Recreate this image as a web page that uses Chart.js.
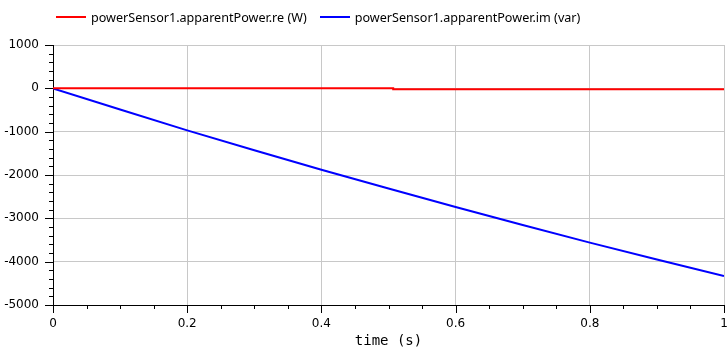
<!DOCTYPE html>
<html>
<head>
<meta charset="utf-8">
<script src="https://cdn.jsdelivr.net/npm/chart.js@4"></script>
<style>
  body { margin: 0; background: #fff; }
  #wrap { position: relative; width: 727px; height: 350px; }
  #legend { position: absolute; left: 56px; top: 8px; display: flex; font: 12.6px "Noto Sans", sans-serif; color: #000; }
  .item { display: flex; align-items: center; margin-right: 13px; height: 18px; }
  .swatch { width: 30px; height: 2px; margin-right: 5px; }
</style>
</head>
<body>
<div id="wrap">
  <canvas id="chart" width="727" height="350"></canvas>
  <div id="legend"></div>
</div>
<script>
const seriesNames = ["powerSensor1.apparentPower.re (W)", "powerSensor1.apparentPower.im (var)"];
const seriesColors = ["#ff0000", "#0000ff"];

const timeRe = [0, 0.507, 0.507, 1];
const powerRe = [0, 0, -20, -20];

const timeIm = [0, 0.1, 0.2, 0.3, 0.4, 0.5, 0.6, 0.7, 0.8, 0.9, 1.0];
const powerIm = [0, -488, -970, -1430, -1877, -2310, -2740, -3155, -3560, -3950, -4330];

const xMajor = 0.2, xMinor = 0.05;
const yMajor = 1000, yMinor = 200;

const isMajor = (v, step) => Math.abs(v / step - Math.round(v / step)) < 1e-6;

const toPoints = (xs, ys) => xs.map((x, i) => ({ x: x, y: ys[i] }));

// legend as html
const legend = document.getElementById("legend");
seriesNames.forEach((name, i) => {
    const item = document.createElement("div");
    item.className = "item";
    const sw = document.createElement("span");
    sw.className = "swatch";
    sw.style.background = seriesColors[i];
    const txt = document.createElement("span");
    txt.textContent = name;
    item.appendChild(sw);
    item.appendChild(txt);
    legend.appendChild(item);
});

// minor + major tick marks drawn outward from the axes
const tickMarks = {
    id: "tickMarks",
    afterDraw(chart) {
        const ctx = chart.ctx;
        const xs = chart.scales.x, ys = chart.scales.y;
        ctx.save();
        ctx.strokeStyle = "#000";
        ctx.lineWidth = 1;
        ctx.beginPath();
        xs.ticks.forEach(t => {
            const px = Math.round(xs.getPixelForValue(t.value)) + 0.5;
            const len = isMajor(t.value, xMajor) ? 8 : 4;
            ctx.moveTo(px, xs.top);
            ctx.lineTo(px, xs.top + len);
        });
        ys.ticks.forEach(t => {
            const py = Math.round(ys.getPixelForValue(t.value)) + 0.5;
            const len = isMajor(t.value, yMajor) ? 8 : 4;
            ctx.moveTo(ys.right, py);
            ctx.lineTo(ys.right - len, py);
        });
        ctx.stroke();
        ctx.restore();
    }
};

new Chart(document.getElementById("chart"), {
    type: "line",
    data: {
        datasets: [
            {
                label: seriesNames[0],
                data: toPoints(timeRe, powerRe),
                borderColor: seriesColors[0],
                borderWidth: 2,
                pointRadius: 0,
                tension: 0
            },
            {
                label: seriesNames[1],
                data: toPoints(timeIm, powerIm),
                borderColor: seriesColors[1],
                borderWidth: 2,
                pointRadius: 0,
                tension: 0
            }
        ]
    },
    options: {
        responsive: false,
        animation: false,
        layout: { padding: { top: 45, right: 3, left: 0, bottom: 0 } },
        plugins: {
            legend: { display: false },
            tooltip: { enabled: false }
        },
        scales: {
            x: {
                type: "linear",
                min: 0,
                max: 1,
                grid: {
                    drawTicks: false,
                    color: c => isMajor(c.tick.value, xMajor) && c.tick.value > 0 ? "#c8c8c8" : "rgba(0,0,0,0)"
                },
                border: { color: "#000", width: 1 },
                ticks: {
                    stepSize: xMinor,
                    autoSkip: false,
                    maxRotation: 0,
                    padding: 12,
                    color: "#000",
                    font: { family: "DejaVu Sans", size: 12 },
                    callback: v => isMajor(v, xMajor) ? String(Math.round(v * 10) / 10) : ""
                },
                title: {
                    display: true,
                    text: "time (s)",
                    color: "#000",
                    font: { family: "DejaVu Sans Mono", size: 14 },
                    padding: { top: 3, bottom: 0 }
                },
                afterFit: s => { s.height = 45; s.paddingLeft = 0; s.paddingRight = 0; }
            },
            y: {
                min: -5000,
                max: 1000,
                grid: {
                    drawTicks: false,
                    color: c => isMajor(c.tick.value, yMajor) && c.tick.value > -5000 ? "#c8c8c8" : "rgba(0,0,0,0)"
                },
                border: { color: "#000", width: 1 },
                ticks: {
                    stepSize: yMinor,
                    autoSkip: false,
                    padding: 14,
                    color: "#000",
                    font: { family: "DejaVu Sans", size: 12 },
                    callback: v => isMajor(v, yMajor) ? String(Math.round(v)) : ""
                },
                afterFit: s => { s.width = 53; s.paddingTop = 0; s.paddingBottom = 0; }
            }
        }
    },
    plugins: [tickMarks]
});
</script>
</body>
</html>
